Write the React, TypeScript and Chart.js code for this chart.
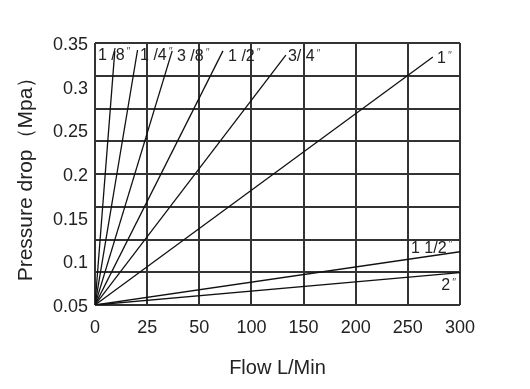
import { useEffect, useRef } from 'react';
import { Chart, registerables } from 'chart.js';
Chart.register(...registerables);

const flowTicks = [0, 25, 50, 100, 150, 200, 250, 300];
const pressureTicks = ['0.05', '0.1', '0.15', '0.2', '0.25', '0.3', '0.35'];
const pipeSizes = ['1 /8', '1 /4', '3 /8', '1 /2', '3/ 4', '1', '1 1/2', '2'];
const startFlow = 0;
const startPressure = 0.05;
const endFlow = [9.5, 20.4, 37, 72.7, 133, 274, 300, 300];
const endPressure = [0.341, 0.342, 0.341, 0.341, 0.336, 0.334, 0.111, 0.087];
const labelFlow = [1.4, 21.6, 39.3, 77.6, 135, 278, 253, 282];
const labelPressure = [0.336, 0.336, 0.335, 0.335, 0.334, 0.332, 0.115, 0.072];
const gridRows = 8;

function flowToPos(f: number): number {
  for (let i = 0; i < flowTicks.length - 1; i++) {
    const a = flowTicks[i];
    const b = flowTicks[i + 1];
    if (f <= b || i === flowTicks.length - 2) {
      return i + (f - a) / (b - a);
    }
  }
  return flowTicks.length - 1;
}

const FONT = '"Liberation Sans", Arial, Helvetica, sans-serif';
const TEXT = '#222';
const GRID = '#333';

const labelPlugin = {
  id: 'pipeLabels',
  afterDatasetsDraw(chart: any) {
    const { ctx, scales } = chart;
    const x = scales.x;
    const y = scales.y;
    ctx.save();
    ctx.fillStyle = TEXT;
    ctx.textBaseline = 'middle';
    ctx.textAlign = 'left';
    pipeSizes.forEach((s, i) => {
      const px = x.getPixelForValue(flowToPos(labelFlow[i]));
      const py = y.getPixelForValue(labelPressure[i]);
      ctx.font = `16px ${FONT}`;
      ctx.fillText(s, px, py);
      const w = ctx.measureText(s).width;
      ctx.fillStyle = '#555';
      ctx.font = `11px ${FONT}`;
      ctx.fillText('″', px + w + 2, py - 3);
      ctx.fillStyle = TEXT;
    });
    ctx.restore();
  },
};

export default function App() {
  const ref = useRef<HTMLCanvasElement>(null);
  useEffect(() => {
    if (!ref.current) return;
    const datasets = pipeSizes.map((s, i) => ({
      label: s,
      data: [
        { x: flowToPos(startFlow), y: startPressure },
        { x: flowToPos(endFlow[i]), y: endPressure[i] },
      ],
      showLine: true,
      borderColor: '#111',
      borderWidth: 1.3,
      pointRadius: 0,
      fill: false,
    }));
    const chart = new Chart(ref.current, {
      type: 'scatter',
      data: { datasets },
      options: {
        animation: false,
        responsive: false,
        layout: { padding: { left: 0, top: 43, right: 70, bottom: 0 } },
        plugins: { legend: { display: false }, tooltip: { enabled: false } },
        scales: {
          x: {
            type: 'linear',
            min: 0,
            max: flowTicks.length - 1,
            afterFit: (s: any) => { s.height = 84; },
            ticks: {
              stepSize: 1,
              autoSkip: false,
              padding: 12,
              color: TEXT,
              font: { family: FONT, size: 18 },
              callback: (v: any) => String(flowTicks[Math.round(Number(v))] ?? ''),
            },
            grid: { color: GRID, lineWidth: 2, drawTicks: false },
            border: { display: false },
            title: {
              display: true,
              text: 'Flow L/Min',
              color: TEXT,
              font: { family: FONT, size: 20 },
              padding: { top: 0, bottom: 9 },
            },
          },
          y: {
            type: 'linear',
            min: 0.05,
            max: 0.35,
            afterFit: (s: any) => { s.width = 95; },
            ticks: {
              stepSize: 0.05,
              padding: 7,
              labelOffset: 2,
              color: TEXT,
              font: { family: FONT, size: 18 },
              callback: (v: any) => pressureTicks[Math.round((Number(v) - 0.05) / 0.05)] ?? '',
            },
            grid: { display: false, drawTicks: false },
            border: { display: false },
            title: {
              display: true,
              text: 'Pressure drop（Mpa）',
              color: TEXT,
              font: { family: FONT, size: 21 },
              padding: { top: 14, bottom: 0 },
            },
          },
          yg: {
            type: 'linear',
            position: 'right',
            min: 0,
            max: gridRows,
            afterFit: (s: any) => { s.width = 0; },
            ticks: { display: false, stepSize: 1 },
            grid: { color: GRID, lineWidth: 2, drawTicks: false },
            border: { display: false },
          },
        },
      },
      plugins: [labelPlugin],
    });
    return () => chart.destroy();
  }, []);
  return (
    <canvas
      ref={ref}
      width={530}
      height={389}
      style={{ position: 'absolute', left: 0, top: 0, display: 'block' }}
    />
  );
}
